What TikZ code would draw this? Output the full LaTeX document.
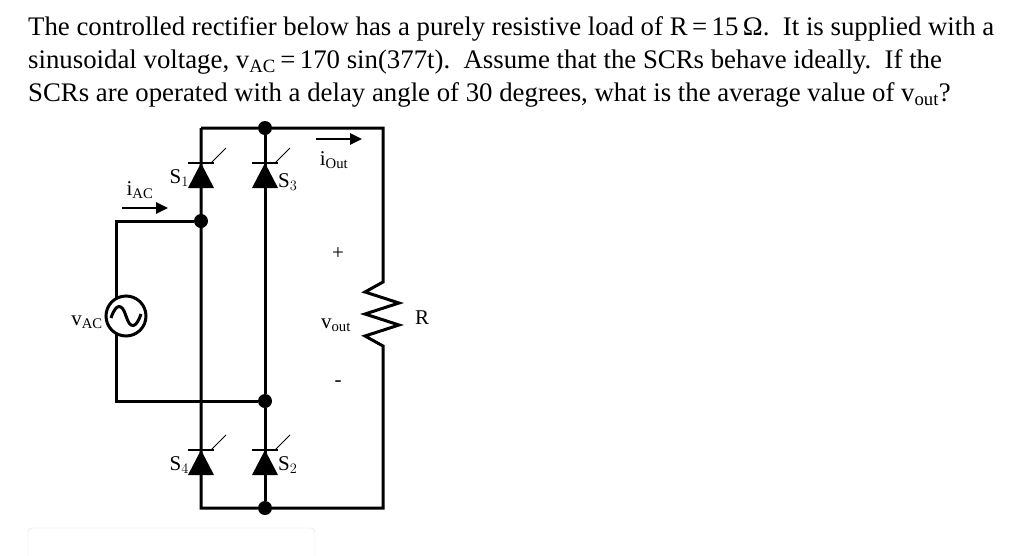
\documentclass[tikz,border=0pt]{standalone}
\usetikzlibrary{arrows.meta}
\usepackage{fontspec}
\setmainfont{Liberation Serif}
\begin{document}
\begin{tikzpicture}[x=1pt,y=-1pt,
 wire/.style={line width=3pt},
 arr/.style={line width=2.5pt,-{Triangle[length=12pt,width=11pt]}},
 dotn/.style={circle,fill=black,inner sep=0pt,minimum size=14pt},
 lbl/.style={inner sep=0pt,font=\fontsize{21}{21}\selectfont}]
\useasboundingbox (0,0) rectangle (1012,555);
\node[anchor=west,inner sep=0pt,align=left,font=\fontsize{26.8}{33}\selectfont] (q) at (28,62) {The controlled rectifier below has a purely resistive load of R\,=\,15\,Ω.\ \ It is supplied with a\\sinusoidal voltage, v$_{\mathrm{AC}}$\,=\,170 sin(377t).\ \ Assume that the SCRs behave ideally.\ \ If the\\SCRs are operated with a delay angle of 30 degrees, what is the average value of v$_{\mathrm{out}}$?};
\node[dotn] (t) at (265,128) {};
\node[dotn] (a) at (201,221) {};
\node[dotn] (b) at (265,401) {};
\node[dotn] (bt) at (265,508) {};
\coordinate (tl) at (201,128); \coordinate (tr) at (383,128);
\coordinate (bl) at (201,508); \coordinate (br) at (383,508);
\node[circle,draw,line width=3pt,minimum size=40pt,inner sep=0pt] (src) at (126,316) {};
\draw[wire] (tl) -- (t) -- (tr) -- (383,282) -- (365,292) -- (399,303) -- (365,314) -- (399,325) -- (365,336) -- (383,346) -- (br) -- (bt) -- (bl) -- (tl);
\draw[wire] (t) -- (b) -- (bt);
\draw[wire] (a) -- (116,221) -- (116,298);
\draw[wire] (116,334) -- (116,401) -- (b);
\draw[line width=3pt] (111,318) .. controls (116,303) and (122,303) .. (126,316) .. controls (130,329) and (136,329) .. (141,314);
\foreach \x/\y in {201/175,265/175,201/462,265/462}{
 \fill (\x-13,\y+13) -- (\x+13,\y+13) -- (\x,\y-12) -- cycle;
 \draw[line width=2.5pt] (\x-13,\y-12) -- (\x+13,\y-12);
 \draw[line width=1pt] (\x+10,\y-12) -- (\x+25,\y-27);
}
\node[lbl,anchor=east] (s1) at (189,178) {S$_1$};
\node[lbl,anchor=west] (s3) at (278,182) {S$_3$};
\node[lbl,anchor=east] (s4) at (189,465) {S$_4$};
\node[lbl,anchor=west] (s2) at (278,465) {S$_2$};
\draw[arr] (316,139) -- (362,139);
\node[lbl] (io) at (334,160) {i$_{\mathrm{Out}}$};
\draw[arr] (122,208) -- (168,208);
\node[lbl] (ia) at (140,190) {i$_{\mathrm{AC}}$};
\node[lbl] at (338,254) {+};
\node[lbl] at (338,384) {-};
\node[lbl] at (336,325) {v$_{\mathrm{out}}$};
\node[lbl,anchor=west] at (415,318) {R};
\node[lbl,anchor=east] at (103,322) {v$_{\mathrm{AC}}$};
\draw[black!12,rounded corners=4pt] (28,560) -- (28,528) -- (315,528) -- (315,560);
\end{tikzpicture}
\end{document}
